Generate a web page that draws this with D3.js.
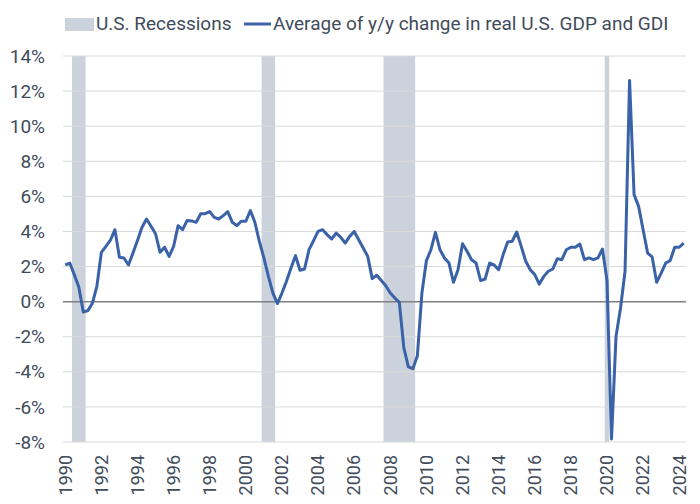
<!DOCTYPE html>
<html>
<head>
<meta charset="utf-8">
<script src="https://cdn.jsdelivr.net/npm/d3@7"></script>
<style>
  body { margin: 0; background: #fff; }
  svg { display: block; font-family: Roboto, "Noto Sans", sans-serif; }
</style>
</head>
<body>
<div id="chart"></div>
<script>
// quarterly data, 1990Q1 .. 2024Q2
const startYear = 1990;
const gdpGdi = [
  2.09, 2.2, 1.54, 0.84, -0.59, -0.51, -0.1, 0.87, 2.81, 3.15, 3.5, 4.1,
  2.53, 2.49, 2.09, 2.77, 3.48, 4.24, 4.71, 4.3, 3.87, 2.81, 3.1, 2.58,
  3.15, 4.33, 4.1, 4.63, 4.6, 4.52, 5.01, 5.01, 5.13, 4.8, 4.71, 4.9,
  5.13, 4.52, 4.33, 4.58, 4.58, 5.19, 4.52, 3.44, 2.49, 1.44, 0.49, -0.11,
  0.49, 1.16, 1.92, 2.62, 1.79, 1.86, 2.96, 3.48, 4.0, 4.1, 3.82, 3.57,
  3.91, 3.68, 3.34, 3.72, 4.0, 3.53, 3.06, 2.58, 1.31, 1.5, 1.2, 0.91,
  0.49, 0.21, -0.04, -2.64, -3.72, -3.82, -3.08, 0.49, 2.34, 2.96, 3.95, 2.96,
  2.49, 2.2, 1.1, 1.82, 3.3, 2.87, 2.39, 2.2, 1.2, 1.29, 2.2, 2.09,
  1.82, 2.68, 3.4, 3.44, 3.97, 3.15, 2.3, 1.82, 1.54, 1.0, 1.44, 1.73,
  1.86, 2.45, 2.39, 2.96, 3.1, 3.1, 3.28, 2.39, 2.49, 2.39, 2.49, 3.0,
  1.2, -7.83, -1.98, -0.36, 1.73, 12.61, 6.1, 5.43, 4.1, 2.77, 2.55, 1.1,
  1.63, 2.2, 2.34, 3.1, 3.1, 3.34
];
// recession spans, first and last quarter
const recessions = [
  ["1990Q3", "1991Q1"],
  ["2001Q1", "2001Q3"],
  ["2007Q4", "2009Q2"],
  ["2020Q1", "2020Q1"]
];
const yTicks = [-8, -6, -4, -2, 0, 2, 4, 6, 8, 10, 12, 14];
const yearTicks = [1990, 1992, 1994, 1996, 1998, 2000, 2002, 2004, 2006, 2008,
  2010, 2012, 2014, 2016, 2018, 2020, 2022, 2024];

const quarters = gdpGdi.map((v, i) => `${startYear + Math.floor(i / 4)}Q${i % 4 + 1}`);
const data = gdpGdi.map((v, i) => ({ q: quarters[i], v: v }));

const width = 700, height = 504;
const plot = { left: 63, right: 686, top: 56, bottom: 442 };
const textColor = "#414c5b";

const svg = d3.select("#chart").append("svg")
  .attr("width", width)
  .attr("height", height);

const x = d3.scaleBand().domain(quarters).range([plot.left, plot.right]).padding(0);
const y = d3.scaleLinear().domain([-8, 14]).range([plot.bottom, plot.top]);
const cx = q => x(q) + x.bandwidth() / 2;

// recession shading
svg.append("g").selectAll("rect")
  .data(recessions)
  .enter()
  .append("rect")
  .attr("x", d => x(d[0]))
  .attr("width", d => x(d[1]) + x.bandwidth() - x(d[0]))
  .attr("y", y(14))
  .attr("height", y(-8) - y(14))
  .attr("fill", "#cbd2db");

// gridlines
svg.append("g").selectAll("line")
  .data(yTicks.filter(t => t !== 0))
  .enter()
  .append("line")
  .attr("x1", plot.left).attr("x2", plot.right)
  .attr("y1", d => y(d)).attr("y2", d => y(d))
  .attr("stroke", "#dadada")
  .attr("stroke-width", 1);

svg.append("line")
  .attr("x1", plot.left).attr("x2", plot.right)
  .attr("y1", y(0)).attr("y2", y(0))
  .attr("stroke", "#808080")
  .attr("stroke-width", 1.5);

// y axis labels
const yAxis = svg.append("g")
  .attr("transform", `translate(${plot.left - 18},0)`)
  .call(d3.axisLeft(y).tickValues(yTicks).tickSize(0).tickPadding(0).tickFormat(d => d + "%"));
yAxis.select(".domain").remove();
yAxis.selectAll("text")
  .attr("fill", textColor)
  .style("font-size", "19px")
  .style("font-family", "Roboto, sans-serif");

// x axis labels
const xAxis = svg.append("g")
  .attr("transform", `translate(0,${plot.bottom})`)
  .call(d3.axisBottom(x)
    .tickValues(yearTicks.map(yr => yr + "Q1"))
    .tickSize(0)
    .tickFormat(d => d.slice(0, 4)));
xAxis.select(".domain").remove();
xAxis.selectAll("text")
  .attr("fill", textColor)
  .style("font-size", "18px")
  .style("font-family", "Roboto, sans-serif")
  .attr("text-anchor", "end")
  .attr("transform", "rotate(-90)")
  .attr("x", -13)
  .attr("y", 0)
  .attr("dy", "0.35em");

// line
const line = d3.line()
  .x(d => cx(d.q))
  .y(d => y(d.v));

svg.append("path")
  .datum(data)
  .attr("fill", "none")
  .attr("stroke", "#3a62a8")
  .attr("stroke-width", 3)
  .attr("stroke-linejoin", "round")
  .attr("d", line);

// legend
const legend = svg.append("g").style("font-size", "19px").attr("fill", textColor);
legend.append("rect")
  .attr("x", 65).attr("y", 18).attr("width", 29).attr("height", 13)
  .attr("fill", "#cbd2db");
legend.append("text")
  .attr("x", 96).attr("y", 30)
  .text("U.S. Recessions");
legend.append("line")
  .attr("x1", 244).attr("x2", 271).attr("y1", 24).attr("y2", 24)
  .attr("stroke", "#3a62a8").attr("stroke-width", 3);
legend.append("text")
  .attr("x", 273).attr("y", 30)
  .text("Average of y/y change in real U.S. GDP and GDI");
</script>
</body>
</html>
